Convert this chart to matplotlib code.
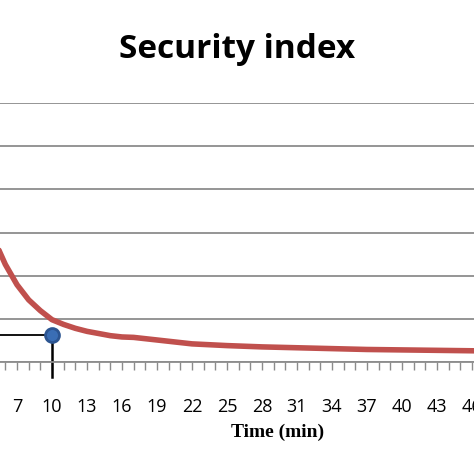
import matplotlib
matplotlib.use("Agg")
import matplotlib.pyplot as plt
from matplotlib.ticker import MultipleLocator, FixedLocator

time_min = [1, 3, 5, 5.5, 6, 7, 8, 9, 10, 11, 12, 13, 14, 15, 16, 17, 19, 22, 25, 28, 31, 34, 37, 40, 43, 46, 49]
security = [4.6, 3.8, 2.9, 2.56, 2.26, 1.79, 1.44, 1.19, 0.98, 0.87, 0.78, 0.71, 0.66, 0.61, 0.58, 0.57, 0.51, 0.42, 0.38, 0.35, 0.33, 0.31, 0.29, 0.28, 0.27, 0.26, 0.25]
point_x = [10]
point_y = [0.63]
major_ticks = list(range(1, 50, 3))

fig = plt.figure(figsize=(4.74, 4.74), dpi=100)
ax = fig.add_axes([-53/474, 112/474, 560/474, 259/474])
ax.set_xlim(1, 49)
ax.set_ylim(0, 6)
ax.plot(time_min, security, color="#c0504d", lw=4, solid_capstyle="round", solid_joinstyle="round")
ax.yaxis.set_major_locator(MultipleLocator(1))
ax.grid(axis="y", color="#8c8c8c", lw=1.3)
ax.set_yticklabels([])
ax.tick_params(axis="y", length=0)
for s in ["top", "right", "left"]:
    ax.spines[s].set_visible(False)
ax.spines["bottom"].set_color("#8c8c8c")
ax.spines["bottom"].set_linewidth(1.3)
ax.xaxis.set_major_locator(FixedLocator(major_ticks))
ax.xaxis.set_minor_locator(MultipleLocator(1))
ax.tick_params(axis="x", which="both", length=6, color="#8c8c8c", width=1)
ax.tick_params(axis="x", which="major", pad=20)
ax.set_xticklabels([str(t) for t in major_ticks], fontsize=13, family="Open Sans")
ax.plot([1, point_x[0]], [point_y[0], point_y[0]], color="black", lw=1.3)
ax.plot([point_x[0], point_x[0]], [point_y[0], -0.35], color="black", lw=1.8, clip_on=False)
ax.plot(point_x, point_y, "o", ms=10, mfc="#3a6eb5", mec="#2c5591", mew=2, zorder=5, clip_on=False)
fig.text(0.5, 0.895, "Security index", ha="center", va="center", fontsize=24, fontweight="bold", family="Open Sans")
fig.text(0.585, 0.088, "Time (min)", ha="center", va="center", fontsize=14, fontweight="bold", family="Liberation Serif")
fig.savefig("out.png", dpi=100)
